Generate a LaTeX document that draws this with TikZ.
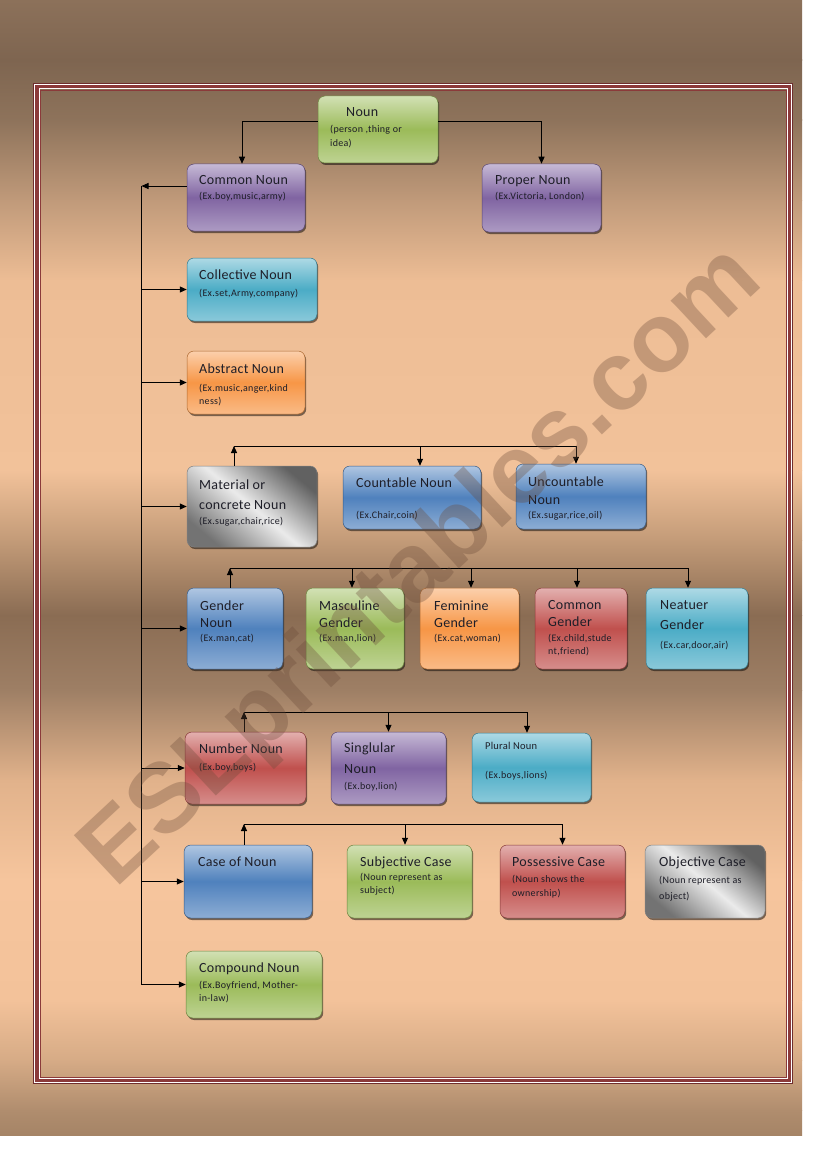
\documentclass[tikz,border=0pt]{standalone}
\usepackage{fontspec}
\setmainfont{Carlito}
\newfontfamily\titf[LetterSpace=2]{Carlito}
\newfontfamily\subf[LetterSpace=3]{Carlito}
\newfontfamily\wmf{Liberation Sans}
\usetikzlibrary{arrows.meta,shadows}

\definecolor{cgreen}{HTML}{9BBB59}
\definecolor{cpurple}{HTML}{8064A2}
\definecolor{caqua}{HTML}{4BACC6}
\definecolor{corange}{HTML}{F79646}
\definecolor{cblue}{HTML}{4F81BD}
\definecolor{cred}{HTML}{C0504D}
\definecolor{txtc}{HTML}{1E1E28}
\definecolor{framered}{HTML}{8B3A3A}
\definecolor{wmcol}{HTML}{6A4A38}

\definecolor{bg0}{HTML}{8C715A}
\definecolor{bg1}{HTML}{7E6550}
\definecolor{bg2}{HTML}{8E735B}
\definecolor{bg3}{HTML}{C09A7A}
\definecolor{bg4}{HTML}{EDBD95}
\definecolor{bg5}{HTML}{F2C29A}
\definecolor{bg6}{HTML}{C39B78}
\definecolor{bg7}{HTML}{8A6C53}
\definecolor{bg8}{HTML}{9E7F65}
\definecolor{bg9}{HTML}{E1B28B}
\definecolor{bg10}{HTML}{F6C59D}
\definecolor{bg11}{HTML}{F3C29A}
\definecolor{bg12}{HTML}{D6AB86}
\definecolor{bg13}{HTML}{B08D6E}
\definecolor{bg14}{HTML}{A58466}

\tikzset{
  nbox/.style={rounded corners=7pt, draw=#1!70!black, line width=0.5pt,
    top color=#1!45!white, bottom color=#1!65!white, middle color=#1,
    drop shadow={shadow xshift=1.2pt, shadow yshift=-2pt, opacity=0.5, fill=black}},
  grayb/.style={rounded corners=7pt, draw=black!50, line width=0.5pt,
    top color=black!62, bottom color=black!55, middle color=black!8,
    shading angle=-40,
    drop shadow={shadow xshift=1.2pt, shadow yshift=-2pt, opacity=0.5, fill=black}},
  ttl/.style={anchor=base west, inner sep=0pt, text=txtc, font=\titf\fontsize{14}{16}\selectfont},
  sbt/.style={anchor=base west, inner sep=0pt, text=txtc, font=\subf\fontsize{10}{12}\selectfont},
  ln/.style={line width=0.9pt, black},
  arr/.style={line width=0.9pt, black, -{Triangle[length=7pt,width=6pt]}},
  bgband/.style={draw=none}
}
\newcommand{\mkB}[6]{\node[#2, minimum width=#5pt, minimum height=#6pt] (#1) at (#3,#4) {};}
\newcommand{\mkT}[4]{\node[ttl] (#1) at (#2,#3) {#4};}
\newcommand{\mkS}[4]{\node[sbt] (#1) at (#2,#3) {#4};}

\begin{document}
\begin{tikzpicture}[x=1pt,y=-1pt]
\useasboundingbox (0,0) rectangle (826,1169);
\fill[white] (0,0) rectangle (826,1169);
% background bands
\shade[bgband, top color=bg0, bottom color=bg1] (0,0) rectangle (802,60.5);
\shade[bgband, top color=bg1, bottom color=bg2] (0,60) rectangle (802,120.5);
\shade[bgband, top color=bg2, bottom color=bg3] (0,120) rectangle (802,200.5);
\shade[bgband, top color=bg3, bottom color=bg4] (0,200) rectangle (802,280.5);
\shade[bgband, top color=bg4, bottom color=bg5] (0,280) rectangle (802,470.5);
\shade[bgband, top color=bg5, bottom color=bg6] (0,470) rectangle (802,540.5);
\shade[bgband, top color=bg6, bottom color=bg7] (0,540) rectangle (802,615.5);
\shade[bgband, top color=bg7, bottom color=bg8] (0,615) rectangle (802,690.5);
\shade[bgband, top color=bg8, bottom color=bg9] (0,690) rectangle (802,780.5);
\shade[bgband, top color=bg9, bottom color=bg10] (0,780) rectangle (802,880.5);
\shade[bgband, top color=bg10, bottom color=bg11] (0,880) rectangle (802,1000.5);
\shade[bgband, top color=bg11, bottom color=bg12] (0,1000) rectangle (802,1060.5);
\shade[bgband, top color=bg12, bottom color=bg13] (0,1060) rectangle (802,1110.5);
\shade[bgband, top color=bg13, bottom color=bg14] (0,1110) rectangle (802,1135);

% frame
\draw[framered!80!black, line width=1pt] (33.5,83.5) rectangle (792.5,1083.5);
\draw[white, line width=1pt] (34.5,84.5) rectangle (791.5,1082.5);
\draw[framered, line width=3.5pt] (36.75,86.75) rectangle (789.25,1080.25);
\draw[white, line width=1pt] (39,89) rectangle (787,1078);
\draw[framered, line width=0.8pt] (40,90) rectangle (786,1077);

% boxes
\mkB{noun}{nbox=cgreen}{378}{129.5}{120}{67}
\mkB{common}{nbox=cpurple}{246}{197.5}{118}{67}
\mkB{proper}{nbox=cpurple}{541.5}{198}{119}{68}
\mkB{collective}{nbox=caqua}{252}{289.5}{130}{63}
\mkB{abstract}{nbox=corange}{246}{382.5}{118}{63}
\mkB{material}{grayb}{252}{506.5}{130}{81}
\mkB{countable}{nbox=cblue}{412}{497.5}{138}{63}
\mkB{uncountable}{nbox=cblue}{581}{496.5}{130}{65}
\mkB{gender}{nbox=cblue}{235}{628.5}{96}{81}
\mkB{masculine}{nbox=cgreen}{355}{628.5}{98}{81}
\mkB{feminine}{nbox=corange}{469.5}{628.5}{99}{81}
\mkB{comgender}{nbox=cred}{581}{628.5}{92}{81}
\mkB{neuter}{nbox=caqua}{697}{628.5}{102}{81}
\mkB{number}{nbox=cred}{245.5}{768}{121}{72}
\mkB{singular}{nbox=cpurple}{388.5}{768}{115}{72}
\mkB{plural}{nbox=caqua}{531.5}{767.5}{119}{69}
\mkB{case}{nbox=cblue}{248}{881.5}{128}{73}
\mkB{subjective}{nbox=cgreen}{409.5}{881.5}{125}{73}
\mkB{possessive}{nbox=cred}{562.5}{881.5}{125}{73}
\mkB{objective}{grayb}{705}{881.5}{120}{73}
\mkB{compound}{nbox=cgreen}{254}{984.5}{136}{67}

% titles
\mkT{tnoun}{346}{117}{Noun}
\mkT{tcommon}{199}{185}{Common Noun}
\mkT{tproper}{495}{185}{Proper Noun}
\mkT{tcollective}{199}{279}{Collective Noun}
\mkT{tabstract}{199}{373}{Abstract Noun}
\mkT{tmat1}{199}{489}{Material or}
\mkT{tmat2}{199}{509}{concrete Noun}
\mkT{tcountable}{356}{487}{Countable Noun}
\mkT{tunc1}{528}{486}{Uncountable}
\mkT{tunc2}{528}{504}{Noun}
\mkT{tgen1}{200}{610}{Gender}
\mkT{tgen2}{200}{627}{Noun}
\mkT{tmas1}{319}{610}{Masculine}
\mkT{tmas2}{319}{627}{Gender}
\mkT{tfem1}{434}{610}{Feminine}
\mkT{tfem2}{434}{627}{Gender}
\mkT{tcg1}{548}{609}{Common}
\mkT{tcg2}{548}{626}{Gender}
\mkT{tneu1}{660}{609}{Neatuer}
\mkT{tneu2}{660}{629}{Gender}
\mkT{tnumber}{199}{753}{Number Noun}
\mkT{tsing1}{344}{752}{Singlular}
\mkT{tsing2}{344}{773}{Noun}
\node[ttl, font=\titf\fontsize{10.5}{12}\selectfont] (tplural) at (485,749) {Plural Noun};
\mkT{tcase}{198}{866}{Case of Noun}
\mkT{tsubj}{360}{866}{Subjective Case}
\mkT{tposs}{512}{866}{Possessive Case}
\mkT{tobj}{659}{866}{Objective Case}
\mkT{tcompound}{199}{972}{Compound Noun}

% sub texts
\mkS{snoun1}{330}{133}{(person ,thing or}
\mkS{snoun2}{330}{147}{idea)}
\mkS{scommon}{199}{200}{(Ex.boy,music,army)}
\mkS{sproper}{495}{200}{(Ex.Victoria, London)}
\mkS{scollective}{199}{296}{(Ex.set,Army,company)}
\mkS{sabs1}{199}{391}{(Ex.music,anger,kind}
\mkS{sabs2}{199}{404}{ness)}
\mkS{smat}{199}{524}{(Ex.sugar,chair,rice)}
\mkS{scount}{356}{518}{(Ex.Chair,coin)}
\mkS{sunc}{528}{518}{(Ex.sugar,rice,oil)}
\mkS{sgen}{200}{641}{(Ex.man,cat)}
\mkS{smas}{319}{641}{(Ex.man,lion)}
\mkS{sfem}{434}{641}{(Ex.cat,woman)}
\mkS{scg1}{548}{641}{(Ex.child,stude}
\mkS{scg2}{548}{654}{nt,friend)}
\mkS{sneu}{660}{648}{(Ex.car,door,air)}
\mkS{snumber}{199}{770}{(Ex.boy,boys)}
\mkS{ssing}{344}{789}{(Ex.boy,lion)}
\mkS{splural}{485}{778}{(Ex.boys,lions)}
\mkS{ssubj1}{360}{880}{(Noun represent as}
\mkS{ssubj2}{360}{893}{subject)}
\mkS{sposs1}{512}{882}{(Noun shows the}
\mkS{sposs2}{512}{896}{ownership)}
\mkS{sobj1}{659}{883}{(Noun represent as}
\mkS{sobj2}{659}{899}{object)}
\mkS{scomp1}{199}{988}{(Ex.Boyfriend, Mother-}
\mkS{scomp2}{199}{1001}{in-law)}

% attachment points
\coordinate (commonIn) at ([xshift=-4pt]common.north);
\coordinate (commonOut) at ([yshift=11.5pt]common.west);
\coordinate (nounL) at ([yshift=8.5pt]noun.west);
\coordinate (nounR) at ([yshift=8.5pt]noun.east);
\coordinate (matUp) at ([xshift=-18pt]material.north);
\coordinate (countIn) at ([xshift=8pt]countable.north);
\coordinate (uncIn) at ([xshift=-5pt]uncountable.north);
\coordinate (genUp) at ([xshift=-5pt]gender.north);
\coordinate (masIn) at ([xshift=-3pt]masculine.north);
\coordinate (femIn) at ([xshift=1.5pt]feminine.north);
\coordinate (cgIn) at ([xshift=-4pt]comgender.north);
\coordinate (neuIn) at ([xshift=-9pt]neuter.north);
\coordinate (numUp) at ([xshift=-1.5pt]number.north);
\coordinate (plurIn) at ([xshift=-4.5pt]plural.north);
\coordinate (caseUp) at ([xshift=-4pt]case.north);
\coordinate (subjIn) at ([xshift=-4.5pt]subjective.north);

% connectors from Noun
\draw[arr] (nounL) -| (commonIn);
\draw[arr] (nounR) -| (proper.north);

% trunk
\coordinate (trunktop) at (141.5,186);
\draw[arr] (commonOut) -- (trunktop);
\draw[arr] (trunktop) -- (trunktop |- compound.west) -- (compound.west);
\draw[arr] (trunktop |- collective.west) -- (collective.west);
\draw[arr] (trunktop |- abstract.west) -- (abstract.west);
\draw[arr] (trunktop |- material.west) -- (material.west);
\draw[arr] (trunktop |- gender.west) -- (gender.west);
\draw[arr] (trunktop |- number.west) -- (number.west);
\draw[arr] (trunktop |- case.west) -- (case.west);

% material group
\coordinate (mbar) at (234,446);
\draw[arr] (matUp) -- (mbar);
\draw[ln] (mbar) -- (mbar -| uncIn);
\draw[arr] (countIn |- mbar) -- (countIn);
\draw[arr] (uncIn |- mbar) -- (uncIn);

% gender group
\coordinate (gbar) at (230,568);
\draw[arr] (genUp) -- (gbar);
\draw[ln] (gbar) -- (gbar -| neuIn);
\draw[arr] (masIn |- gbar) -- (masIn);
\draw[arr] (femIn |- gbar) -- (femIn);
\draw[arr] (cgIn |- gbar) -- (cgIn);
\draw[arr] (neuIn |- gbar) -- (neuIn);

% number group
\coordinate (nbar) at (244,712);
\draw[arr] (numUp) -- (nbar);
\draw[ln] (nbar) -- (nbar -| plurIn);
\draw[arr] (singular.north |- nbar) -- (singular.north);
\draw[arr] (plurIn |- nbar) -- (plurIn);

% case group
\coordinate (cbar) at (244,824);
\draw[arr] (caseUp) -- (cbar);
\draw[ln] (cbar) -- (cbar -| possessive.north);
\draw[arr] (subjIn |- cbar) -- (subjIn);
\draw[arr] (possessive.north |- cbar) -- (possessive.north);

% watermark
\node[rotate=43, inner sep=0pt, text=wmcol, text opacity=0.33,
      font=\wmf\bfseries\fontsize{98}{98}\selectfont] (wm) at (423,568) {ESLprintables.com};
\end{tikzpicture}
\end{document}
